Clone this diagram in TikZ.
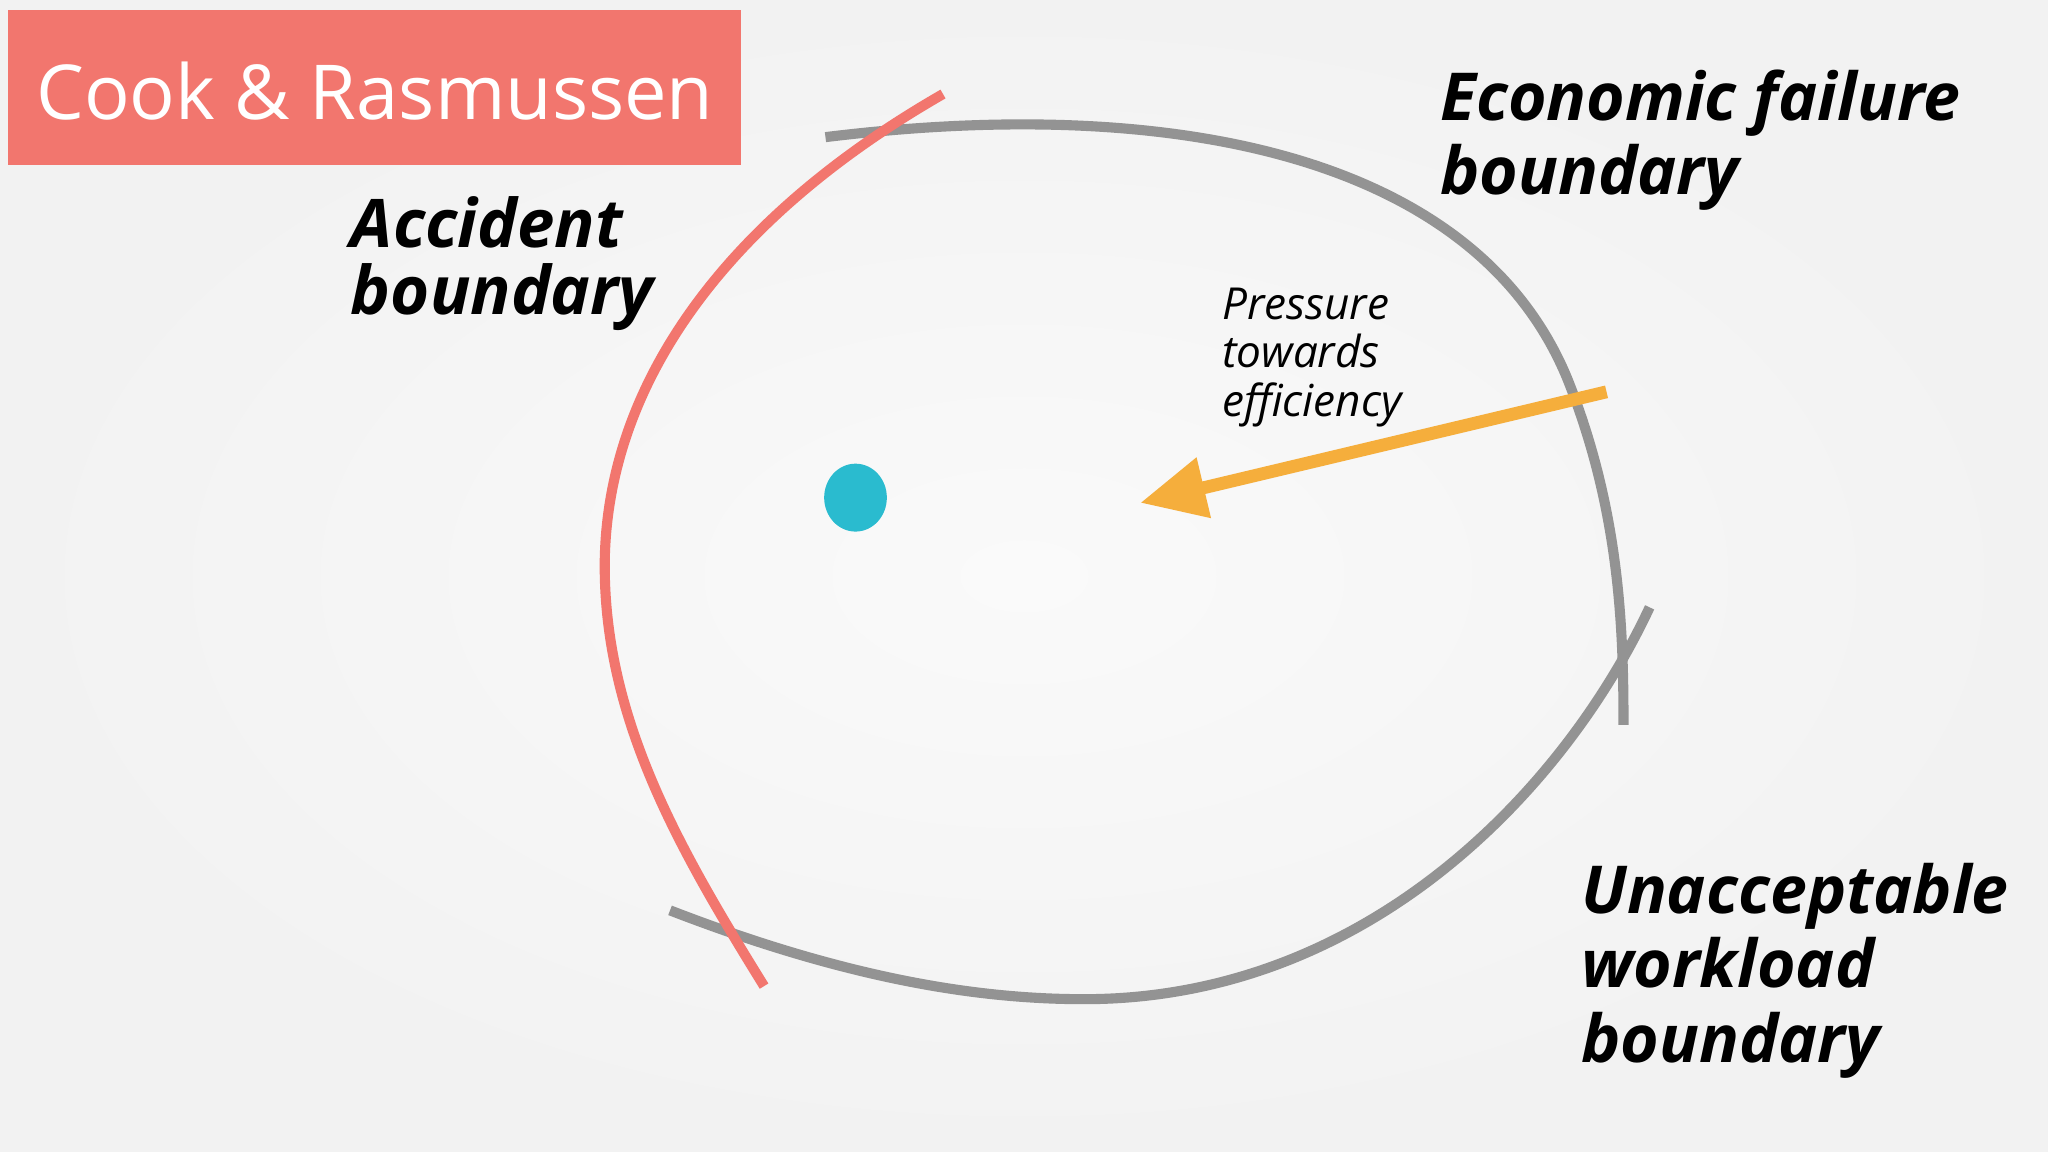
\documentclass[tikz,border=0pt]{standalone}
\usepackage{fontspec}
\setmainfont{Open Sans}
\usetikzlibrary{arrows.meta}
\definecolor{bgc}{HTML}{F2F2F2}
\definecolor{bgi}{HTML}{FAFAFA}
\definecolor{redc}{HTML}{F2766E}
\definecolor{grayc}{HTML}{939393}
\definecolor{orangec}{HTML}{F5AE3C}
\definecolor{tealc}{HTML}{2ABBCF}
\begin{document}
\begin{tikzpicture}[x=0.01cm,y=-0.01cm,
  bnd/.style={line width=2.2pt},
  lbl/.style={anchor=north west,inner sep=0pt,align=left,font=\bfseries\itshape\fontsize{14.4}{16}\selectfont}]
\shade[inner color=bgi,outer color=bgc] (0,0) rectangle (1568,882);
\useasboundingbox (0,0) rectangle (1568,882);
\fill[redc] (6,8) rectangle (567,126);
\node[text=white,font=\fontsize{16.5}{18}\selectfont,inner sep=0pt] (title) at (287,70) {Cook \& Rasmussen};
\draw[bnd,grayc] (632,105) .. controls (900,72) and (1130,120) .. (1200,290) .. controls (1240,390) and (1243,480) .. (1243,555);
\draw[bnd,grayc] (513,697) .. controls (650,750) and (750,765) .. (830,765) .. controls (1050,765) and (1200,600) .. (1263,465);
\draw[bnd,redc] (722,72) .. controls (560,165) and (465,290) .. (463,430) .. controls (462,550) and (520,650) .. (585,755);
\fill[tealc] (655,381) ellipse (24 and 26);
\coordinate (as) at (1230,300);
\coordinate (ae) at (873,385);
\draw[orangec,line width=2.8pt,-{Triangle[length=0.5cm,width=0.45cm]}] (as) -- (ae);
\node[lbl,font=\bfseries\itshape\fontsize{14.6}{14.6}\selectfont] (acc) at (268,150) {Accident\\boundary};
\node[lbl] (eco) at (1102,53) {Economic failure\\boundary};
\node[lbl,font=\bfseries\itshape\fontsize{14.4}{16.2}\selectfont] (wl) at (1210,660) {Unacceptable\\workload\\boundary};
\node[lbl,font=\itshape\fontsize{9.6}{10.5}\selectfont] (pr) at (935,220) {Pressure\\towards\\efficiency};
\end{tikzpicture}
\end{document}
